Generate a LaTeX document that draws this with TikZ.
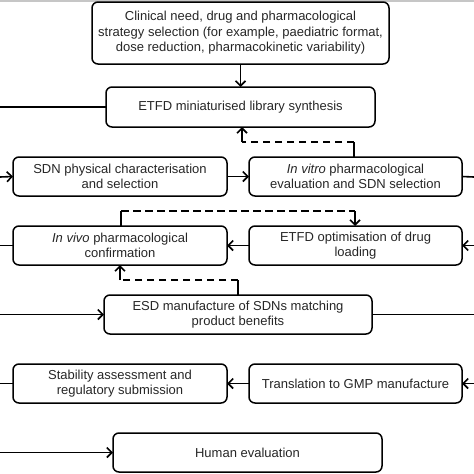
\documentclass[tikz,border=0pt]{standalone}
\usepackage{fontspec}
\setmainfont{Liberation Sans}
\usetikzlibrary{arrows.meta}
\begin{document}
\begin{tikzpicture}[x=1pt,y=-1pt,
  box/.style={draw, line width=1.5pt, rounded corners=6pt, align=center, inner sep=0pt, outer sep=0pt,
    font=\fontsize{13}{15.5}\selectfont, text=black!85},
  conn/.style={line width=1.6pt, -{Straight Barb[length=5pt,width=10pt]}},
  plain/.style={line width=1.6pt},
  dashline/.style={line width=1.6pt, dash pattern=on 7.5pt off 4.5pt}
]
\useasboundingbox (0,0) rectangle (474,474);
\fill[gray!45] (0,0) rectangle (474,1.5);
\node[box, minimum width=297pt, minimum height=62pt] (top) at (240.5,33) {Clinical need, drug and pharmacological\\strategy selection (for example, paediatric format,\\dose reduction, pharmacokinetic variability)};
\node[box, minimum width=269pt, minimum height=40pt] (etfd) at (240.5,107) {ETFD miniaturised library synthesis};
\node[box, minimum width=214pt, minimum height=39pt] (sdn) at (120,176.5) {SDN physical characterisation\\and selection};
\node[box, minimum width=213pt, minimum height=39pt] (invitro) at (355.5,176.5) {\textit{In vitro} pharmacological\\evaluation and SDN selection};
\node[box, minimum width=214pt, minimum height=39pt] (invivo) at (120,245.5) {\textit{In vivo} pharmacological\\confirmation};
\node[box, minimum width=213pt, minimum height=39pt] (opt) at (355.5,245.5) {ETFD optimisation of drug\\loading};
\node[box, minimum width=268pt, minimum height=39pt] (esd) at (238,314.5) {ESD manufacture of SDNs matching\\product benefits};
\node[box, minimum width=214pt, minimum height=39pt] (stab) at (120,383.5) {Stability assessment and\\regulatory submission};
\node[box, minimum width=213pt, minimum height=39pt] (trans) at (355.5,383.5) {Translation to GMP manufacture};
\node[box, minimum width=269pt, minimum height=39pt] (human) at (247.5,452.5) {Human evaluation};

\coordinate (l1) at (0,107);
\coordinate (l2) at (0,177);
\coordinate (r2) at (474,177);
\coordinate (l3) at (0,245.5);
\coordinate (r3) at (474,245.5);
\coordinate (l4) at (0,314.5);
\coordinate (r4) at (474,314.5);
\coordinate (l5) at (0,383.5);
\coordinate (r5) at (474,383.5);
\coordinate (l6) at (0,452.5);

\draw[conn] (top) -- (etfd);
\draw[plain] (l1) -- (etfd.west);
\draw[conn] (l2) -- (sdn.west);
\draw[conn] (sdn) -- (invitro);
\draw[plain] (invitro.east) -- (r2);
\draw[plain] (l3) -- (invivo.west);
\draw[conn] (opt) -- (invivo);
\draw[conn] (r3) -- (opt.east);
\draw[conn] (l4) -- (esd.west);
\draw[plain] (esd.east) -- (r4);
\draw[plain] (l5) -- (stab.west);
\draw[conn] (trans) -- (stab);
\draw[conn] (r5) -- (trans.east);
\draw[conn] (l6) -- (human.west);

% dashed feedback loops
\coordinate (a1) at (354,142);
\coordinate (a2) at (242,142);
\draw[plain] (invitro.north -| a1) -- (a1);
\draw[dashline] (a1) -- (a2);
\draw[conn] (a2) -- (etfd.south -| a2);

\coordinate (b1) at (121,211);
\coordinate (b2) at (355,211);
\draw[plain] (invivo.north -| b1) -- (b1);
\draw[dashline] (b1) -- (b2);
\draw[conn] (b2) -- (opt.north -| b2);

\coordinate (c1) at (238,280);
\coordinate (c2) at (120,280);
\draw[plain] (esd.north -| c1) -- (c1);
\draw[dashline] (c1) -- (c2);
\draw[conn] (c2) -- (invivo.south -| c2);
\end{tikzpicture}
\end{document}
